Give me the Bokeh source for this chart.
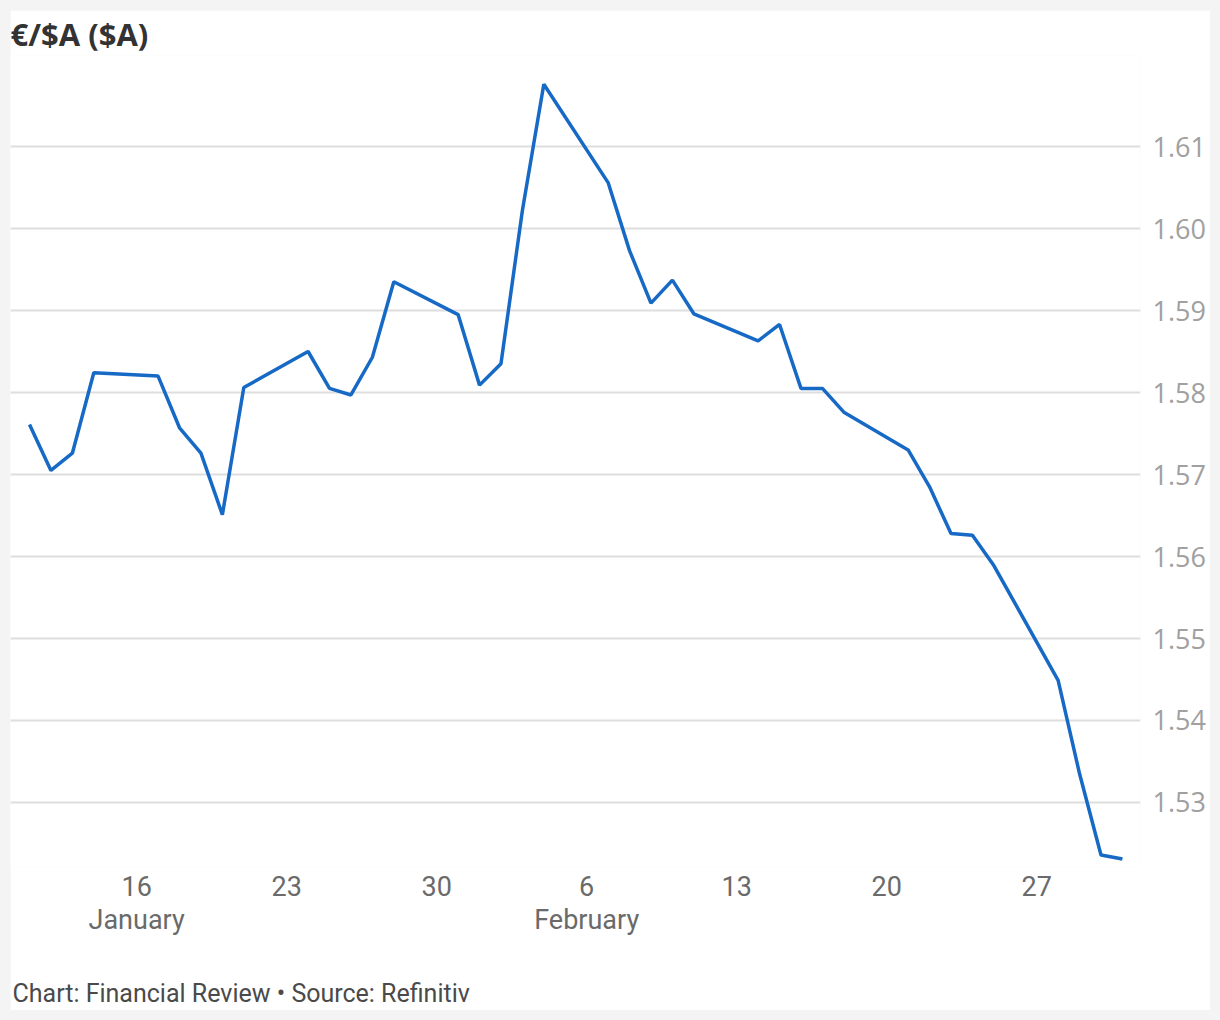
import pandas as pd
from bokeh.plotting import figure
from bokeh.layouts import column
from bokeh.models import (FixedTicker, Range1d, DatetimeAxis, Title, NumeralTickFormatter)
from bokeh.embed import file_html
from bokeh.resources import INLINE

dates = ["2022-01-11", "2022-01-12", "2022-01-13", "2022-01-14",
         "2022-01-17", "2022-01-18", "2022-01-19", "2022-01-20", "2022-01-21",
         "2022-01-24", "2022-01-25", "2022-01-26", "2022-01-27", "2022-01-28",
         "2022-01-31", "2022-02-01", "2022-02-02", "2022-02-03", "2022-02-04",
         "2022-02-07", "2022-02-08", "2022-02-09", "2022-02-10", "2022-02-11",
         "2022-02-14", "2022-02-15", "2022-02-16", "2022-02-17", "2022-02-18",
         "2022-02-21", "2022-02-22", "2022-02-23", "2022-02-24", "2022-02-25",
         "2022-02-28", "2022-03-01", "2022-03-02", "2022-03-03"]
eur_aud = [1.5761, 1.5705, 1.5726, 1.5824,
           1.5820, 1.5757, 1.5726, 1.5651, 1.5806,
           1.5850, 1.5805, 1.5797, 1.5843, 1.5935,
           1.5895, 1.5809, 1.5835, 1.6022, 1.6176,
           1.6056, 1.5973, 1.5909, 1.5937, 1.5896,
           1.5863, 1.5883, 1.5805, 1.5805, 1.5776,
           1.5730, 1.5685, 1.5628, 1.5626, 1.5589,
           1.5449, 1.5335, 1.5236, 1.5231]
day_ticks = ["2022-01-16", "2022-01-23", "2022-01-30", "2022-02-06",
             "2022-02-13", "2022-02-20", "2022-02-27"]
day_labels = ["16", "23", "30", "6", "13", "20", "27"]
month_ticks = ["2022-01-16", "2022-02-06"]
month_labels = ["January", "February"]
y_ticks = [1.53, 1.54, 1.55, 1.56, 1.57, 1.58, 1.59, 1.60, 1.61]
title_text = "€/$A ($A)"
footer_text = "Chart: Financial Review • Source: Refinitiv"

def ms(s):
    return pd.Timestamp(s).value / 1e6

x = pd.to_datetime(dates)
DAY = 86400000.0
x0 = ms("2022-01-11") - 0.8866 * DAY
x1 = x0 + 52.73 * DAY

p = figure(width=1200, height=1000, x_axis_type="datetime", y_axis_location="right",
           output_backend="svg", toolbar_location=None,
           x_range=Range1d(x0, x1), y_range=Range1d(1.522195, 1.621098),
           min_border_left=0, min_border_right=70, min_border_top=45, min_border_bottom=144,
           background_fill_color="white", border_fill_color="white", outline_line_color=None,
           margin=(10, 10, 10, 10))

p.line(x, eur_aud, line_color="#1769c6", line_width=3.5)

# y axis
ya = p.yaxis[0]
ya.ticker = FixedTicker(ticks=y_ticks)
ya.formatter = NumeralTickFormatter(format="0.00")
ya.axis_line_color = None
ya.major_tick_line_color = None
ya.minor_tick_line_color = None
ya.major_label_standoff = 6
ya.major_label_text_font = "Open Sans"
ya.major_label_text_font_size = "27px"
ya.major_label_text_color = "#a0a0a0"

p.ygrid.grid_line_color = "#dedede"
p.ygrid.grid_line_width = 2
p.xgrid.grid_line_color = None

LBL_FONT = "Roboto"

# x axis (days)
xa = p.xaxis[0]
xa.ticker = FixedTicker(ticks=[ms(d) for d in day_ticks])
xa.major_label_overrides = {ms(d): l for d, l in zip(day_ticks, day_labels)}
xa.axis_line_color = None
xa.major_tick_line_color = None
xa.minor_tick_line_color = None
xa.major_label_standoff = 3
xa.major_label_text_font = LBL_FONT
xa.major_label_text_font_size = "27px"
xa.major_label_text_color = "#6a6a6a"

# month axis
ma = DatetimeAxis(ticker=FixedTicker(ticks=[ms(d) for d in month_ticks]))
ma.major_label_overrides = {ms(d): l for d, l in zip(month_ticks, month_labels)}
ma.axis_line_color = None
ma.major_tick_line_color = None
ma.minor_tick_line_color = None
ma.major_label_standoff = -1
ma.major_label_text_font = LBL_FONT
ma.major_label_text_font_size = "27px"
ma.major_label_text_color = "#6a6a6a"
p.add_layout(ma, "below")

p.title.text = title_text
p.title.text_font = "Open Sans"
p.title.text_font_style = "bold"
p.title.text_font_size = "31px"
p.title.text_color = "#333333"
p.title.align = "left"
p.title.standoff = 1

spacer = Title(text=" ", text_font_size="1px", standoff=32)
p.add_layout(spacer, "below")
footer = Title(text=footer_text, align="left", text_font=LBL_FONT, text_font_size="25px",
               text_font_style="normal", text_color="#4a4a4a", standoff=6, offset=2)
p.add_layout(footer, "below")

layout = column(p, styles={"background-color": "#f4f4f4"})

open("out.html", "w").write(file_html(layout, INLINE))
